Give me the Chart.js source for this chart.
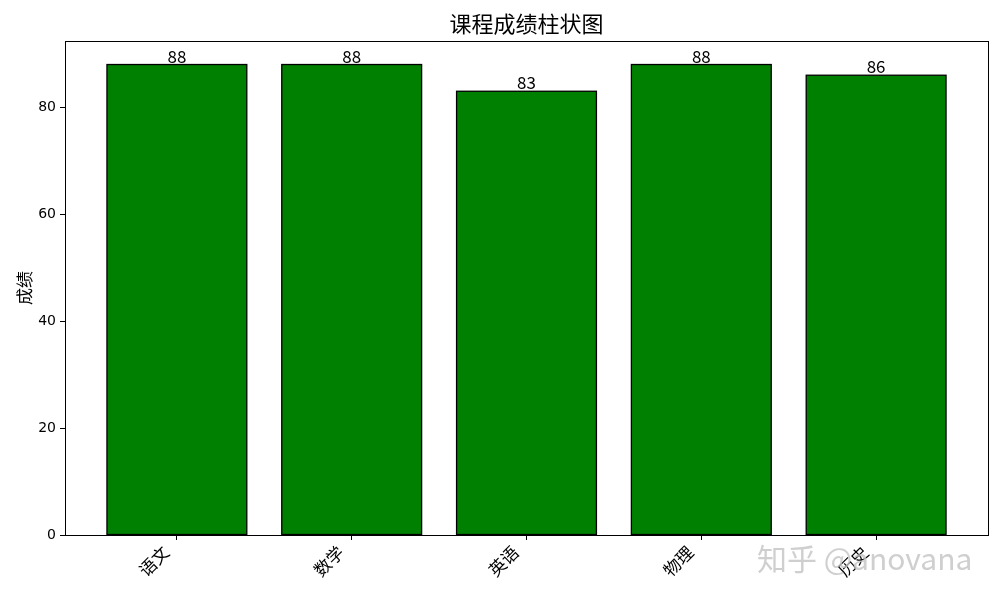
<!DOCTYPE html>
<html><head><meta charset="utf-8">
<script src="https://cdn.jsdelivr.net/npm/chart.js@4"></script>
<style>html,body{margin:0;padding:0;background:#fff}#wrap{width:1000px;height:600px;position:relative}</style>
</head><body><div id="wrap"><canvas id="c"></canvas></div>
<script>
const categories = ['语文', '数学', '英语', '物理', '历史'];
const scores = [88, 88, 83, 88, 86];
const yTicks = [0, 20, 40, 60, 80];
const titleText = '课程成绩柱状图';
const yLabel = '成绩';
const watermark = '知乎 @anovana';

const CJK = "'Noto Sans CJK SC', 'DejaVu Sans', sans-serif";
const DJV = "'DejaVu Sans', sans-serif";

const decor = {
  id: 'decor',
  beforeDraw(chart) {
    const ctx = chart.ctx;
    ctx.save();
    ctx.fillStyle = '#fff';
    ctx.fillRect(0, 0, chart.width, chart.height);
    ctx.restore();
  },
  afterDatasetsDraw(chart) {
    const ctx = chart.ctx;
    const meta = chart.getDatasetMeta(0);
    ctx.save();
    ctx.strokeStyle = '#000';
    ctx.lineWidth = 1.3;
    meta.data.forEach((el) => {
      const w = el.width;
      ctx.strokeRect(el.x - w / 2, el.y, w, el.base - el.y);
    });
    ctx.font = '17px ' + CJK;
    ctx.fillStyle = '#000';
    ctx.textAlign = 'center';
    ctx.textBaseline = 'alphabetic';
    meta.data.forEach((el, i) => {
      ctx.fillText(String(scores[i]), el.x, el.y - 2);
    });
    ctx.restore();
  },
  afterDraw(chart) {
    const ctx = chart.ctx;
    const a = chart.chartArea;
    ctx.save();
    ctx.strokeStyle = '#000';
    ctx.lineWidth = 1;
    ctx.strokeRect(Math.round(a.left) + 0.5, Math.round(a.top) + 0.5, Math.round(a.right - a.left), Math.round(a.bottom - a.top));
    ctx.fillStyle = '#000';
    ctx.font = '22px ' + CJK;
    ctx.textAlign = 'center';
    ctx.textBaseline = 'middle';
    ctx.fillText(titleText, (a.left + a.right) / 2, 24);
    ctx.save();
    ctx.translate(25, (a.top + a.bottom) / 2);
    ctx.rotate(-Math.PI / 2);
    ctx.font = '17px ' + CJK;
    ctx.fillText(yLabel, 0, 0);
    ctx.restore();
    ctx.font = '30px ' + CJK;
    ctx.textAlign = 'left';
    ctx.fillStyle = 'rgba(195,195,195,0.8)';
    ctx.fillText(watermark, 757, 559);
    ctx.restore();
  }
};

new Chart(document.getElementById('c'), {
  type: 'bar',
  data: {
    datasets: [{
      data: categories.map((c, i) => ({ x: i, y: scores[i] })),
      backgroundColor: '#008000',
      borderWidth: 0,
      barPercentage: 0.8,
      categoryPercentage: 1.0
    }]
  },
  options: {
    responsive: true,
    maintainAspectRatio: false,
    animation: false,
    layout: { padding: { top: 41, right: 12, left: 0, bottom: 0 } },
    plugins: { legend: { display: false }, tooltip: { enabled: false }, title: { display: false } },
    scales: {
      x: {
        type: 'linear',
        offset: false,
        min: -0.64,
        max: 4.64,
        afterBuildTicks(s) { s.ticks = categories.map((c, i) => ({ value: i })); },
        afterFit(s) { s.height = 65; },
        grid: { offset: false, drawOnChartArea: false, color: '#000', tickColor: '#000', tickLength: 5 },
        border: { display: true, color: '#000' },
        ticks: {
          callback: (v) => categories[v],
          minRotation: 45,
          maxRotation: 45,
          autoSkip: false,
          color: '#000',
          padding: 2,
          labelOffset: -11,
          font: { family: CJK, size: 17 }
        }
      },
      y: {
        min: 0,
        max: 92.4,
        afterBuildTicks(s) { s.ticks = yTicks.map(v => ({ value: v })); },
        afterFit(s) { s.width = 65; },
        grid: { drawOnChartArea: false, color: '#000', tickColor: '#000', tickLength: 5 },
        border: { display: true, color: '#000' },
        ticks: { color: '#000', padding: 4, font: { family: DJV, size: 14 } }
      }
    }
  },
  plugins: [decor]
});
</script></body></html>
